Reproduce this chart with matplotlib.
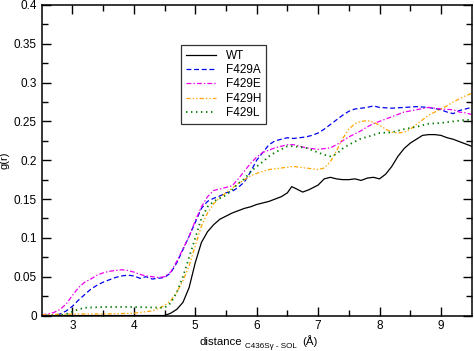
import numpy as np
import matplotlib
matplotlib.use("Agg")
import matplotlib.pyplot as plt

plt.rcParams['font.family'] = ['Liberation Sans', 'DejaVu Sans']
plt.rcParams['lines.scale_dashes'] = False

# WT
x_wt = [2.5, 4.5, 4.6, 4.7, 4.8, 4.9, 5.0, 5.1, 5.2, 5.3, 5.4, 5.5, 5.6, 5.7, 5.8, 5.9,
        6.0, 6.1, 6.2, 6.3, 6.4, 6.5, 6.57, 6.65, 6.75, 6.85, 7.0, 7.1, 7.2, 7.3, 7.4,
        7.5, 7.6, 7.7, 7.8, 7.9, 8.0, 8.1, 8.2, 8.3, 8.4, 8.5, 8.6, 8.7, 8.8, 8.9, 9.0,
        9.1, 9.2, 9.3, 9.4, 9.5]
y_wt = [0, 0, 0.003, 0.008, 0.017, 0.036, 0.068, 0.094, 0.108, 0.117, 0.124, 0.128,
        0.132, 0.135, 0.138, 0.14, 0.143, 0.145, 0.147, 0.15, 0.153, 0.158, 0.166,
        0.163, 0.159, 0.162, 0.168, 0.176, 0.178, 0.176, 0.175, 0.175, 0.176, 0.174,
        0.177, 0.178, 0.176, 0.182, 0.192, 0.205, 0.215, 0.222, 0.227, 0.232, 0.233,
        0.233, 0.232, 0.229, 0.227, 0.224, 0.221, 0.218]

# F429A
x_a = [2.5, 2.7, 2.8, 2.9, 3.0, 3.1, 3.2, 3.3, 3.4, 3.5, 3.6, 3.7, 3.8, 3.9, 4.0, 4.1,
       4.2, 4.3, 4.4, 4.5, 4.6, 4.7, 4.8, 4.9, 5.0, 5.1, 5.2, 5.3, 5.4, 5.5, 5.6, 5.7,
       5.8, 5.9, 6.0, 6.1, 6.2, 6.3, 6.4, 6.5, 6.6, 6.7, 6.8, 6.9, 7.0, 7.1, 7.2, 7.3,
       7.4, 7.5, 7.6, 7.7, 7.8, 7.9, 8.0, 8.2, 8.4, 8.6, 8.8, 9.0, 9.1, 9.2, 9.3, 9.4, 9.5]
y_a = [0, 0, 0.002, 0.006, 0.012, 0.02, 0.027, 0.034, 0.039, 0.043, 0.046, 0.049, 0.051,
       0.052, 0.051, 0.048, 0.05, 0.047, 0.048, 0.049, 0.055, 0.068, 0.085, 0.102, 0.12,
       0.138, 0.147, 0.151, 0.154, 0.158, 0.16, 0.165, 0.172, 0.185, 0.2, 0.21, 0.22,
       0.225, 0.227, 0.229, 0.228, 0.229, 0.23, 0.232, 0.235, 0.24, 0.246, 0.252, 0.258,
       0.263, 0.266, 0.267, 0.268, 0.27, 0.268, 0.267, 0.268, 0.269, 0.268, 0.265, 0.262,
       0.26, 0.264, 0.266, 0.268]

# F429E
x_e = [2.5, 2.6, 2.7, 2.8, 2.9, 3.0, 3.1, 3.2, 3.3, 3.4, 3.5, 3.6, 3.7, 3.8, 3.9, 4.0,
       4.1, 4.2, 4.3, 4.4, 4.5, 4.6, 4.7, 4.8, 4.9, 5.0, 5.1, 5.2, 5.3, 5.4, 5.5, 5.6,
       5.7, 5.8, 5.9, 6.0, 6.1, 6.2, 6.3, 6.4, 6.5, 6.6, 6.7, 6.8, 6.9, 7.0, 7.1, 7.2,
       7.3, 7.4, 7.5, 7.6, 7.7, 7.8, 7.9, 8.0, 8.2, 8.4, 8.6, 8.8, 9.0, 9.2, 9.3, 9.4, 9.5]
y_e = [0.001, 0.002, 0.004, 0.008, 0.015, 0.026, 0.036, 0.043, 0.047, 0.052, 0.055,
       0.057, 0.058, 0.059, 0.058, 0.056, 0.053, 0.051, 0.05, 0.049, 0.05, 0.056, 0.07,
       0.086, 0.102, 0.122, 0.14, 0.153, 0.161, 0.163, 0.165, 0.167, 0.176, 0.186,
       0.196, 0.204, 0.21, 0.213, 0.216, 0.218, 0.22, 0.22, 0.218, 0.216, 0.215, 0.214,
       0.215, 0.216, 0.22, 0.225, 0.23, 0.234, 0.238, 0.243, 0.247, 0.25, 0.256, 0.262,
       0.265, 0.268, 0.266, 0.265, 0.262, 0.261, 0.259]

# F429H
x_h = [2.5, 3.0, 3.5, 4.0, 4.3, 4.4, 4.5, 4.6, 4.7, 4.8, 4.9, 5.0, 5.1, 5.2, 5.3, 5.4,
       5.5, 5.6, 5.7, 5.8, 5.9, 6.0, 6.2, 6.4, 6.6, 6.8, 7.0, 7.1, 7.2, 7.3, 7.4, 7.5,
       7.6, 7.7, 7.8, 7.9, 8.0, 8.1, 8.2, 8.3, 8.4, 8.5, 8.6, 8.7, 8.8, 8.9, 9.0, 9.1,
       9.2, 9.3, 9.4, 9.5]
y_h = [0.001, 0.002, 0.002, 0.003, 0.006, 0.009, 0.013, 0.019, 0.03, 0.045, 0.064, 0.09,
       0.115, 0.132, 0.144, 0.152, 0.158, 0.164, 0.17, 0.175, 0.18, 0.183, 0.188, 0.19,
       0.192, 0.19, 0.188, 0.19, 0.198, 0.212, 0.228, 0.24, 0.247, 0.25, 0.251, 0.249,
       0.245, 0.24, 0.236, 0.235, 0.236, 0.24, 0.246, 0.252, 0.258, 0.262, 0.266, 0.27,
       0.275, 0.279, 0.283, 0.286]

# F429L
x_l = [2.5, 2.8, 2.9, 3.0, 3.1, 3.2, 3.5, 4.0, 4.5, 4.6, 4.7, 4.8, 4.9, 5.0, 5.1, 5.2,
       5.3, 5.4, 5.5, 5.6, 5.7, 5.8, 5.9, 6.0, 6.1, 6.2, 6.3, 6.4, 6.5, 6.6, 6.8, 7.0,
       7.1, 7.2, 7.3, 7.4, 7.5, 7.6, 7.7, 7.8, 8.0, 8.2, 8.4, 8.6, 8.8, 9.0, 9.2, 9.4, 9.5]
y_l = [0, 0, 0.002, 0.005, 0.008, 0.01, 0.011, 0.011, 0.01, 0.016, 0.03, 0.05, 0.075,
       0.1, 0.125, 0.14, 0.147, 0.151, 0.155, 0.162, 0.17, 0.176, 0.185, 0.192, 0.198,
       0.205, 0.21, 0.214, 0.218, 0.218, 0.216, 0.21, 0.207, 0.205, 0.208, 0.215, 0.22,
       0.224, 0.228, 0.23, 0.235, 0.236, 0.24, 0.243, 0.247, 0.248, 0.25, 0.252, 0.252]

fig = plt.figure(figsize=(4.74, 3.51), dpi=100)
ax = fig.add_axes([0.088, 0.101, 0.907, 0.885])

ax.plot(x_wt, y_wt, color='black', lw=0.9, label='WT')
ax.plot(x_a, y_a, color='#0000ee', lw=0.9, dashes=(3.5, 2), label='F429A')
ax.plot(x_e, y_e, color='#ee00ee', lw=0.9, dashes=(3.5, 1.5, 1, 1.5), label='F429E')
ax.plot(x_h, y_h, color='#ffa500', lw=0.9, dashes=(3, 1.5, 1, 1.5, 1, 1.5), label='F429H')
ax.plot(x_l, y_l, color='#007a00', lw=1.3, dashes=(1, 2.6), label='F429L')

ax.set_xlim(2.5, 9.5)
ax.set_ylim(0, 0.4)
ax.set_xticks([3, 4, 5, 6, 7, 8, 9])
ax.set_xticks(np.arange(3.5, 9.5, 1.0), minor=True)
ax.set_yticks(np.arange(0, 0.401, 0.05))
ax.set_yticks(np.arange(0.025, 0.4, 0.05), minor=True)
ax.set_yticklabels(['0', '0.05', '0.1', '0.15', '0.2', '0.25', '0.3', '0.35', '0.4'])
ax.tick_params(which='both', direction='in', top=True, right=True, labelsize=8.5, width=1)
ax.tick_params(which='major', length=6.5)
ax.tick_params(which='minor', length=4.3)
for s in ax.spines.values():
    s.set_linewidth(1.1)

# x label built from pieces: main text, subscript, unit
fig.text(199 / 474, 1 - 345 / 351, 'distance', fontsize=8.2, ha='left', va='baseline')
fig.text(245 / 474, 1 - 348.5 / 351, 'C436S\u03b3 - SOL', fontsize=5.8, ha='left', va='baseline')
fig.text(302 / 474, 1 - 345 / 351, '(\u00c5)', fontsize=8.2, ha='left', va='baseline')
ax.set_ylabel('g(r)', fontsize=8, labelpad=3)

leg = ax.legend(loc='upper left', bbox_to_anchor=(0.324, 0.871), fontsize=8.5,
                frameon=True, fancybox=False, handlelength=2.6, borderpad=0.4,
                labelspacing=0.2, handletextpad=0.8, borderaxespad=0)
leg.get_frame().set_edgecolor('black')
leg.get_frame().set_linewidth(0.9)

fig.savefig('out.png', dpi=100)
